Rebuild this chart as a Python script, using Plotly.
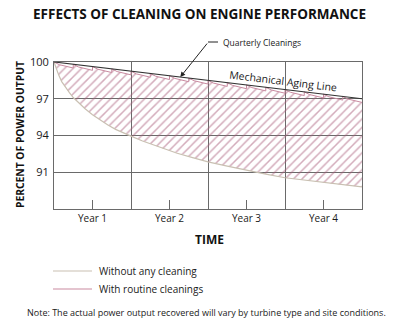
import plotly.graph_objects as go

# ---------------- data ----------------
year_labels = ["Year 1", "Year 2", "Year 3", "Year 4"]
year_centers = [0.5, 1.5, 2.5, 3.5]
year_bounds = [1, 2, 3]
y_ticks = [91, 94, 97, 100]

aging_t = [0, 4]
aging_v = [100, 97]

without_t = [0, 0.03, 0.06, 0.1, 0.15, 0.2, 0.25, 0.32, 0.4, 0.5, 0.6, 0.7, 0.8, 0.9, 1.0,
             1.15, 1.3, 1.45, 1.6, 1.8, 2.0, 2.25, 2.5, 2.75, 3.0, 3.25, 3.5, 3.75, 4.0]
without_v = [100, 99.45, 98.95, 98.4, 97.9, 97.5, 97.1, 96.65, 96.2, 95.7, 95.25, 94.85, 94.5, 94.2, 93.95,
             93.55, 93.2, 92.85, 92.55, 92.2, 91.85, 91.5, 91.15, 90.85, 90.55, 90.35, 90.15, 89.95, 89.8]

# quarterly cleanings: value right after a cleaning, shortly after, and just before next cleaning
cleaning_t = [0, 0.25, 0.5, 0.75, 1.0, 1.25, 1.5, 1.75, 2.0, 2.25, 2.5, 2.75, 3.0, 3.25, 3.5, 3.75, 4.0]
peak_v = [100.0, 99.81, 99.63, 99.44, 99.25, 99.06, 98.88, 98.69, 98.5, 98.31, 98.13, 97.94, 97.75, 97.56, 97.38, 97.19]
mid_v = [99.78, 99.59, 99.41, 99.22, 99.03, 98.84, 98.66, 98.47, 98.28, 98.09, 97.91, 97.72, 97.53, 97.34, 97.16, 96.97]
low_v = [99.51, 99.32, 99.14, 98.95, 98.76, 98.57, 98.39, 98.2, 98.01, 97.82, 97.64, 97.45, 97.26, 97.07, 96.89, 96.70]

routine_t, routine_v = [], []
for k in range(len(peak_v)):
    a, b = cleaning_t[k], cleaning_t[k + 1]
    routine_t += [a, a + 0.07, b]
    routine_v += [peak_v[k], mid_v[k], low_v[k]]

# ---------------- figure ----------------
W, H = 400, 322
L, R, T, B = 54, 362, 62, 209
def px(xp):
    return (xp - L) / (R - L)
def py(yp):
    return (B - yp) / (B - T)

GRID = "#6a6a6a"
TXT = "#1a1a1a"
FONT = "Open Sans"
HATCH = "#a85a78"
C_WITHOUT = "#c9c0b2"
C_ROUTINE = "#c98aa0"

fig = go.Figure()
# hatched band between the two curves
fig.add_trace(go.Scatter(x=routine_t + without_t[::-1], y=routine_v + without_v[::-1],
                         mode="lines", line=dict(width=0), fill="toself",
                         fillcolor="rgba(0,0,0,0)",
                         fillpattern=dict(shape="/", fgcolor=HATCH, bgcolor="rgba(0,0,0,0)",
                                          size=6, solidity=0.25),
                         showlegend=False, hoverinfo="skip"))
fig.add_trace(go.Scatter(x=without_t, y=without_v, mode="lines",
                         line=dict(color=C_WITHOUT, width=1.2),
                         showlegend=False, hoverinfo="skip"))
fig.add_trace(go.Scatter(x=routine_t, y=routine_v, mode="lines",
                         line=dict(color=C_ROUTINE, width=1),
                         showlegend=False, hoverinfo="skip"))
fig.add_trace(go.Scatter(x=aging_t, y=aging_v, mode="lines",
                         line=dict(color="#333333", width=1.2),
                         showlegend=False, hoverinfo="skip"))

fig.update_layout(
    width=W, height=H,
    margin=dict(l=L, r=W - R, t=T, b=H - B),
    paper_bgcolor="white", plot_bgcolor="white",
    font=dict(family=FONT, color=TXT, size=11),
    xaxis=dict(range=[0, 4], tickmode="array", tickvals=year_centers, ticktext=year_labels,
               ticks="inside", ticklen=9, tickcolor=GRID, tickwidth=1,
               showgrid=False, zeroline=False,
               showline=True, mirror=True, linecolor=GRID, linewidth=1,
               tickfont=dict(size=10, family=FONT),
               minor=dict(tickmode="array", tickvals=year_bounds, showgrid=True,
                          gridcolor=GRID, gridwidth=1, ticks="")),
    yaxis=dict(range=[88, 100], tickmode="array", tickvals=y_ticks,
               showgrid=True, gridcolor=GRID, gridwidth=1, zeroline=False,
               ticks="", showline=True, mirror=True, linecolor=GRID, linewidth=1,
               ticklabelstandoff=2,
               tickfont=dict(size=11, family=FONT)),
)

ann = []
ann.append(dict(text="<b>EFFECTS OF CLEANING ON ENGINE PERFORMANCE</b>", x=px(199), y=py(14),
                xref="paper", yref="paper", showarrow=False, xanchor="center", yanchor="middle",
                font=dict(family=FONT, size=13.5, color="#111")))
ann.append(dict(text="<b>PERCENT OF POWER OUTPUT</b>", x=px(20), y=py(135), textangle=-90,
                xref="paper", yref="paper", showarrow=False, xanchor="center", yanchor="middle",
                font=dict(family=FONT, size=10.3, color="#111")))
ann.append(dict(text="<b>TIME</b>", x=px(209), y=py(239),
                xref="paper", yref="paper", showarrow=False, xanchor="center", yanchor="middle",
                font=dict(family=FONT, size=12, color="#111")))
ann.append(dict(text="Quarterly Cleanings", x=px(221), y=py(42),
                xref="paper", yref="paper", showarrow=False, xanchor="left", yanchor="middle",
                font=dict(size=8.5)))
ann.append(dict(text="", x=1.64, y=98.77, xref="x", yref="y", showarrow=True,
                ax=28, ay=-35, arrowhead=2, arrowsize=1, arrowwidth=1, arrowcolor="#222"))
ann.append(dict(text="Mechanical Aging Line", x=px(283), y=py(81), textangle=7,
                xref="paper", yref="paper", showarrow=False, xanchor="center", yanchor="middle",
                font=dict(size=10.5)))
ann.append(dict(text="Without any cleaning", x=px(97), y=py(271),
                xref="paper", yref="paper", showarrow=False, xanchor="left", yanchor="middle",
                font=dict(size=10)))
ann.append(dict(text="With routine cleanings", x=px(97), y=py(289),
                xref="paper", yref="paper", showarrow=False, xanchor="left", yanchor="middle",
                font=dict(size=10)))
ann.append(dict(text="Note: The actual power output recovered will vary by turbine type and site conditions.",
                x=px(206), y=py(312), xref="paper", yref="paper", showarrow=False,
                xanchor="center", yanchor="middle", font=dict(size=9)))
fig.update_layout(annotations=ann)

shapes = [
    dict(type="line", xref="paper", yref="paper", x0=px(208), x1=px(218), y0=py(42), y1=py(42),
         line=dict(color="#222", width=1)),
    dict(type="line", xref="paper", yref="paper", x0=px(53), x1=px(92), y0=py(271), y1=py(271),
         line=dict(color=C_WITHOUT, width=1.2)),
    dict(type="line", xref="paper", yref="paper", x0=px(53), x1=px(92), y0=py(289), y1=py(289),
         line=dict(color=C_ROUTINE, width=1.2)),
]
fig.update_layout(shapes=shapes)

fig.write_html("out.html")
